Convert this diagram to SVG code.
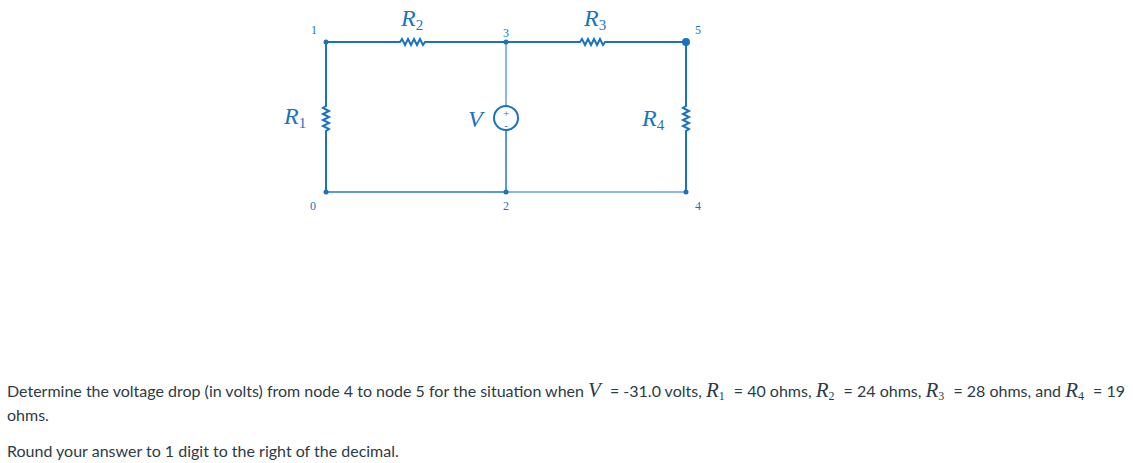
<svg xmlns="http://www.w3.org/2000/svg" width="1133" height="463" viewBox="0 0 1133 463">
<style>
.w{stroke:#1a73c0;stroke-width:2;fill:none}
.wl{stroke:#5a9ad6;stroke-width:2;fill:none}
.wx{stroke:#8db8e6;stroke-width:2;fill:none}
.d{fill:#1a73c0}
.n{font-family:"Liberation Serif",serif;font-size:12px;fill:#1a73c0;text-anchor:middle}
.l{font-family:"Liberation Serif",serif;font-style:italic;font-size:24px;fill:#1a73c0}
.s{font-size:15px;font-style:normal}
.t{font-family:Lato,"Liberation Sans",sans-serif;font-size:16px;fill:#2d3b45}
.m{font-family:"Liberation Serif",serif;font-style:italic;font-size:21px}
.sb{font-size:12px;font-style:normal}
</style>
<g id="connectors">
<path class="w" d="M326,42 H400 l2,-3 3,6 3,-6 3,6 3,-6 3,6 3,-6 3,6 2,-3 H506"/>
<path class="w" d="M506,42 H580 l2,-3 3,6 3,-6 3,6 3,-6 3,6 3,-6 3,6 2,-3 H686"/>
<path class="w" d="M326,42 V106 l-3,2 6,3 -6,3 6,3 -6,3 6,3 -6,3 6,3 -3,2 V192"/>
<path class="w" d="M686,42 V106 l-3,2 6,3 -6,3 6,3 -6,3 6,3 -6,3 6,3 -3,2 V192"/>
<path class="wx" d="M506,42 V106"/>
<path class="wl" d="M506,130 V192"/>
<path class="wl" d="M326,192 H506"/>
<path class="wx" d="M506,192 H686"/>
</g>
<g id="V">
<circle cx="506" cy="118" r="12" class="w"/>
<text x="506" y="117" class="n" style="font-size:11px">+</text>
<text x="506" y="129" class="n" style="font-size:11px">-</text>
<text x="468" y="127" class="l">V</text>
</g>
<g id="R1"><text x="284" y="124" class="l">R<tspan class="s" dy="4">1</tspan></text></g>
<g id="R2"><text x="401" y="26" class="l">R<tspan class="s" dy="4">2</tspan></text></g>
<g id="R3"><text x="584" y="26" class="l">R<tspan class="s" dy="4">3</tspan></text></g>
<g id="R4"><text x="642" y="126" class="l">R<tspan class="s" dy="4">4</tspan></text></g>
<g id="nodes">
<circle cx="326" cy="42" r="2.5" class="d"/><circle cx="506" cy="42" r="2.5" class="d"/><circle cx="686" cy="42" r="4" class="d"/>
<circle cx="326" cy="192" r="2.5" class="d"/><circle cx="506" cy="192" r="2.5" class="d"/><circle cx="686" cy="192" r="2.5" class="d"/>
<text x="314" y="34" class="n">1</text><text x="506" y="37" class="n">3</text><text x="698" y="34" class="n">5</text>
<text x="313" y="210" class="n">0</text><text x="506" y="210" class="n">2</text><text x="698" y="210" class="n">4</text>
</g>
<text x="7" y="397" class="t">Determine the voltage drop (in volts) from node 4 to node 5 for the situation when <tspan class="m">V</tspan><tspan dx="5"> = -31.0 volts, </tspan><tspan class="m">R<tspan class="sb" dy="3">1</tspan></tspan><tspan dy="-3" dx="5"> = 40 ohms, </tspan><tspan class="m">R<tspan class="sb" dy="3">2</tspan></tspan><tspan dy="-3" dx="5"> = 24 ohms, </tspan><tspan class="m">R<tspan class="sb" dy="3">3</tspan></tspan><tspan dy="-3" dx="5"> = 28 ohms, and </tspan><tspan class="m">R<tspan class="sb" dy="3">4</tspan></tspan><tspan dy="-3" dx="5"> = 19</tspan></text>
<text x="7" y="421" class="t">ohms.</text>
<text x="7" y="457" class="t">Round your answer to 1 digit to the right of the decimal.</text>
</svg>
